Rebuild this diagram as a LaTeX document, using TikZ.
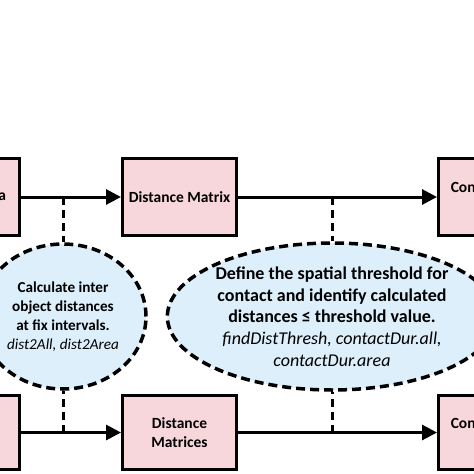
\documentclass[tikz,border=0pt]{standalone}
\usepackage{fontspec}
\setmainfont{Carlito}
\usetikzlibrary{arrows.meta,shapes.geometric}
\definecolor{boxpink}{RGB}{248,215,220}
\definecolor{ellblue}{RGB}{220,239,251}
\tikzset{
  procbox/.style={draw=black, line width=3pt, fill=boxpink, inner sep=0pt,
    minimum height=77pt, align=center, font=\fontsize{15.5}{19}\selectfont\bfseries},
  flowarrow/.style={line width=3pt, -{Triangle[length=15pt,width=15pt]}},
  stepell/.style={ellipse, draw=black, line width=3.5pt, dash pattern=on 9pt off 5pt,
    fill=ellblue, inner sep=0pt, align=center},
  linkline/.style={line width=3pt, dash pattern=on 8pt off 5pt},
}
\begin{document}
\begin{tikzpicture}[x=1pt,y=-1pt]
\useasboundingbox (0,0) rectangle (474,474);
\clip (0,0) rectangle (474,474);
% ellipses (drawn first)
\node[stepell, minimum width=166pt, minimum height=145pt,
  font=\fontsize{15.2}{19}\selectfont] (E1) at (63,316.5)
  {\textbf{Calculate inter}\\\textbf{object distances}\\\textbf{at fix intervals.}\\\textit{dist2All, dist2Area}};
\node[stepell, minimum width=326pt, minimum height=147pt,
  font=\fontsize{18}{21.7}\selectfont] (E2) at (332,316.5)
  {\textbf{Define the spatial threshold for}\\\textbf{contact and identify calculated}\\\textbf{distances ≤ threshold value.}\\\textit{findDistThresh, contactDur.all,}\\\textit{contactDur.area}};
% top row
\node[procbox, minimum width=95pt] (L1) at (-28,197) {Input Data};
\node[procbox, minimum width=114pt] (D1) at (179.5,197) {Distance Matrix};
\node[procbox, minimum width=134pt] (R1) at (505.5,197) {Contact Duration\\Matrix};
% bottom row
\node[procbox, minimum width=107pt, minimum height=74pt] (L2) at (-34,432.5) {Input Data\\by Area};
\node[procbox, minimum width=114pt, minimum height=74pt] (D2) at (179.5,432.5) {Distance\\Matrices};
\node[procbox, minimum width=134pt, minimum height=74pt] (R2) at (505.5,432.5) {Contact Duration\\Matrices};
% arrows
\draw[flowarrow] (L1) -- (D1);
\draw[flowarrow] (D1) -- (R1);
\draw[flowarrow] (L2) -- (D2);
\draw[flowarrow] (D2) -- (R2);
% junctions
\coordinate (j1) at (63,197);
\coordinate (j2) at (332,197);
\coordinate (j3) at (63,432.5);
\coordinate (j4) at (332,432.5);
\draw[linkline] (j1) -- (E1.north);
\draw[linkline] (j2) -- (E2.north);
\draw[linkline] (j3) -- (E1.south);
\draw[linkline] (j4) -- (E2.south);
\end{tikzpicture}
\end{document}
